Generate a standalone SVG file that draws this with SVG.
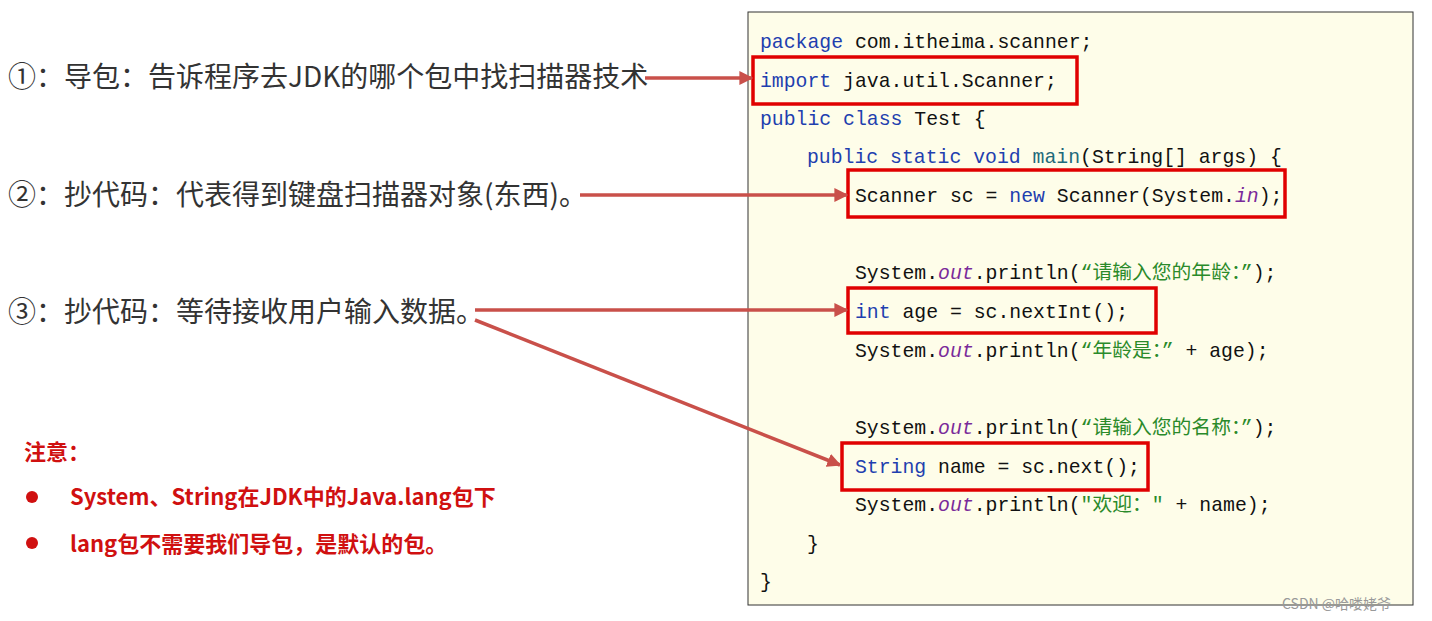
<svg xmlns="http://www.w3.org/2000/svg" width="1432" height="621" viewBox="0 0 1432 621">
<defs>
<style>
.t{font-family:"Noto Sans CJK SC","Noto Sans",sans-serif;font-size:28px;fill:#333}
.n{font-family:"Noto Sans CJK SC",sans-serif;font-size:22px;font-weight:bold;fill:#d01010}
.c{font-family:"Liberation Mono","Noto Sans CJK SC",monospace;font-size:19.8px;fill:#111}
.k{fill:#1f3faf}.m{fill:#1e6a7a}.f{fill:#7a2a9a;font-style:italic}.s{fill:#2a8a2a}
.box{fill:none;stroke:#e00000;stroke-width:3.5}
.a{stroke:#c9504a;stroke-width:3.5;fill:none}
</style>
<marker id="ah" viewBox="0 0 10 10" refX="9" refY="5" markerWidth="4" markerHeight="4" orient="auto" markerUnits="strokeWidth"><path d="M0,0L10,5L0,10z" fill="#c9504a"/></marker>
</defs>
<rect width="1432" height="621" fill="#fff"/>
<g id="code">
<rect x="748" y="12" width="665" height="593" fill="#fefde9" stroke="#333" stroke-width="1"/>
<text class="c" x="760" y="48"><tspan class="k">package</tspan> com.itheima.scanner;</text>
<text class="c" x="760" y="87"><tspan class="k">import</tspan> java.util.Scanner;</text>
<text class="c" x="760" y="125"><tspan class="k">public class</tspan> Test {</text>
<text class="c" x="807" y="163"><tspan class="k">public static void</tspan> <tspan class="m">main</tspan>(String[] args) {</text>
<text class="c" x="855" y="202">Scanner sc = <tspan class="k">new</tspan> Scanner(System.<tspan class="f">in</tspan>);</text>
<text class="c" x="855" y="279">System.<tspan class="f">out</tspan>.println(<tspan class="s">“请输入您的年龄：”</tspan>);</text>
<text class="c" x="855" y="318"><tspan class="k">int</tspan> age = sc.nextInt();</text>
<text class="c" x="855" y="357">System.<tspan class="f">out</tspan>.println(<tspan class="s">“年龄是：”</tspan> + age);</text>
<text class="c" x="855" y="434">System.<tspan class="f">out</tspan>.println(<tspan class="s">“请输入您的名称：”</tspan>);</text>
<text class="c" x="855" y="473"><tspan class="k">String</tspan> name = sc.next();</text>
<text class="c" x="855" y="511">System.<tspan class="f">out</tspan>.println(<tspan class="s">"欢迎：" </tspan>+ name);</text>
<text class="c" x="807" y="550">}</text>
<text class="c" x="760" y="588">}</text>
</g>
<g id="boxes">
<rect class="box" x="753" y="57" width="324" height="47"/>
<rect class="box" x="848" y="170" width="437" height="47"/>
<rect class="box" x="848" y="288" width="308" height="45"/>
<rect class="box" x="842" y="443" width="306" height="47"/>
</g>
<g id="labels">
<text class="t" x="8" y="87">①：导包：告诉程序去JDK的哪个包中找扫描器技术</text>
<text class="t" x="8" y="205">②：抄代码：代表得到键盘扫描器对象(东西)。</text>
<text class="t" x="8" y="322">③：抄代码：等待接收用户输入数据。</text>
</g>
<g id="note">
<text class="n" x="24" y="460">注意：</text>
<circle cx="32" cy="497" r="6" fill="#d01010"/>
<text class="n" x="70" y="505">System、String在JDK中的Java.lang包下</text>
<circle cx="32" cy="543" r="6" fill="#d01010"/>
<text class="n" x="70" y="552">lang包不需要我们导包，是默认的包。</text>
</g>
<g id="connectors">
<line class="a" x1="645" y1="78" x2="752" y2="78" marker-end="url(#ah)"/>
<line class="a" x1="580" y1="195" x2="847" y2="195" marker-end="url(#ah)"/>
<line class="a" x1="475" y1="310" x2="847" y2="310" marker-end="url(#ah)"/>
<line class="a" x1="475" y1="320" x2="840" y2="465" marker-end="url(#ah)"/>
</g>
<text x="1282" y="609" font-family="Noto Sans CJK SC,sans-serif" font-size="14" fill="#999">CSDN @哈喽姥爷</text>
</svg>
